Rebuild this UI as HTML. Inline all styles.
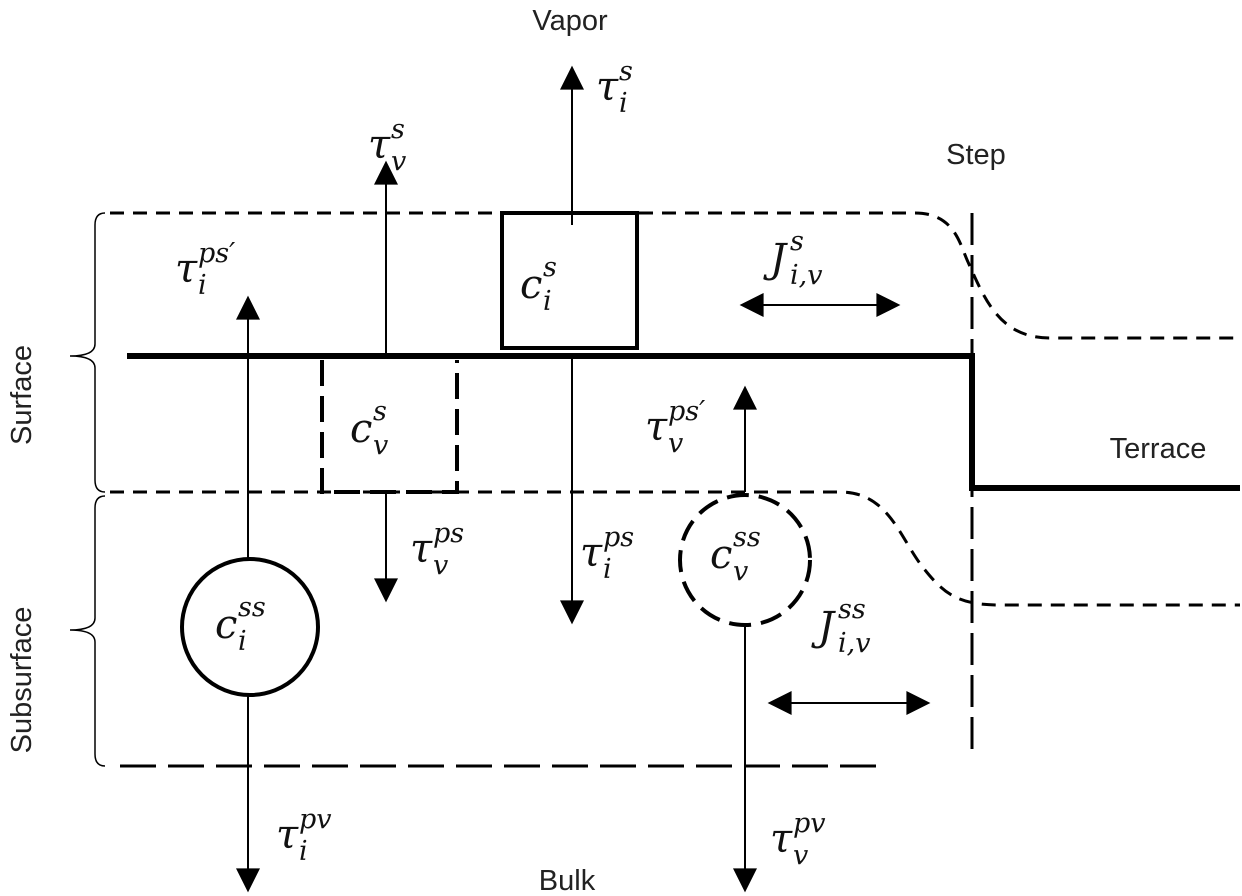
<!DOCTYPE html>
<html><head><meta charset="utf-8"><style>
html,body{margin:0;padding:0;background:#fff}
svg{display:block}
.t{font-family:"Liberation Sans",sans-serif;font-size:29px;fill:#222}
.m{font-family:"DejaVu Serif",serif;font-style:italic;font-size:40px;fill:#111}
.s{font-family:"DejaVu Serif",serif;font-style:italic;font-size:27px;fill:#111}
</style></head><body>
<svg width="1242" height="896" viewBox="0 0 1242 896" xmlns="http://www.w3.org/2000/svg">
<defs>
<marker id="b" viewBox="0 0 10 10" refX="9" refY="5" markerWidth="26" markerHeight="24" markerUnits="userSpaceOnUse" orient="auto-start-reverse"><path d="M0,0L10,5L0,10z" fill="#000"/></marker>
</defs>
<g stroke="#000" fill="none">
<path d="M110,213 H915 C955,213 960,245 968,262 C985,300 1000,338 1050,338 H1240" stroke-width="3" stroke-dasharray="14,9"/>
<path d="M110,492 H840 C890,492 900,540 925,570 C945,595 960,605 1000,605 H1240" stroke-width="3" stroke-dasharray="14,9"/>
<path d="M120,766 H880" stroke-width="3" stroke-dasharray="36,12"/>
<path d="M972,213 V750" stroke-width="3" stroke-dasharray="32,10"/>
<path d="M127,356 H972 V488 H1240" stroke-width="6"/>
<rect x="502" y="213" width="135" height="135" stroke-width="4"/>
<path d="M322,360 V492 H457 V360" stroke-width="4" stroke-dasharray="26,10"/>
<circle cx="250" cy="627" r="68" stroke-width="4"/>
<circle cx="745" cy="560" r="65" stroke-width="4" stroke-dasharray="22,10"/>
<g stroke-width="2" marker-end="url(#b)">
<path d="M572,225 V68"/>
<path d="M386,356 V163"/>
<path d="M248,559 V298"/>
<path d="M745,492 V388"/>
<path d="M386,492 V600"/>
<path d="M572,356 V622"/>
<path d="M248,695 V890"/>
<path d="M745,625 V890"/>
<path d="M742,305 H898" marker-start="url(#b)"/>
<path d="M770,703 H928" marker-start="url(#b)"/>
</g>
<path d="M105,213 Q95,213 95,225 V344 Q95,356 70,356 Q95,356 95,368 V480 Q95,492 105,492" stroke-width="1.5"/>
<path d="M105,496 Q95,496 95,508 V618 Q95,630 70,630 Q95,630 95,642 V754 Q95,766 105,766" stroke-width="1.5"/>
</g>
<text class="t" x="570" y="30" text-anchor="middle">Vapor</text>
<text class="t" x="976" y="164" text-anchor="middle">Step</text>
<text class="t" x="1158" y="458" text-anchor="middle">Terrace</text>
<text class="t" x="567" y="890" text-anchor="middle">Bulk</text>
<text class="t" transform="translate(31,395) rotate(-90)" text-anchor="middle">Surface</text>
<text class="t" transform="translate(31,680) rotate(-90)" text-anchor="middle">Subsurface</text>

<text class="m" x="596" y="100">τ</text><text class="s" x="619" y="80">s</text><text class="s" x="619" y="112">i</text>
<text class="m" x="368" y="158">τ</text><text class="s" x="391" y="138">s</text><text class="s" x="391" y="170">v</text>
<text class="m" x="175" y="282">τ</text><text class="s" x="198" y="262">ps′</text><text class="s" x="198" y="294">i</text>
<text class="m" x="520" y="298">c</text><text class="s" x="543" y="276">s</text><text class="s" x="543" y="310">i</text>
<text class="m" x="350" y="442">c</text><text class="s" x="373" y="420">s</text><text class="s" x="373" y="454">v</text>
<text class="m" x="645" y="440">τ</text><text class="s" x="668" y="420">ps′</text><text class="s" x="668" y="452">v</text>
<text class="m" x="410" y="562">τ</text><text class="s" x="433" y="542">ps</text><text class="s" x="433" y="574">v</text>
<text class="m" x="580" y="566">τ</text><text class="s" x="603" y="546">ps</text><text class="s" x="603" y="578">i</text>
<text class="m" x="710" y="568">c</text><text class="s" x="733" y="546">ss</text><text class="s" x="733" y="580">v</text>
<text class="m" x="215" y="638">c</text><text class="s" x="238" y="616">ss</text><text class="s" x="238" y="650">i</text>
<text class="m" x="770" y="272">J</text><text class="s" x="790" y="250">s</text><text class="s" x="790" y="284">i,v</text>
<text class="m" x="818" y="640">J</text><text class="s" x="838" y="618">ss</text><text class="s" x="838" y="652">i,v</text>
<text class="m" x="276" y="848">τ</text><text class="s" x="299" y="828">pv</text><text class="s" x="299" y="860">i</text>
<text class="m" x="770" y="852">τ</text><text class="s" x="793" y="832">pv</text><text class="s" x="793" y="864">v</text>
</svg>
</body></html>
